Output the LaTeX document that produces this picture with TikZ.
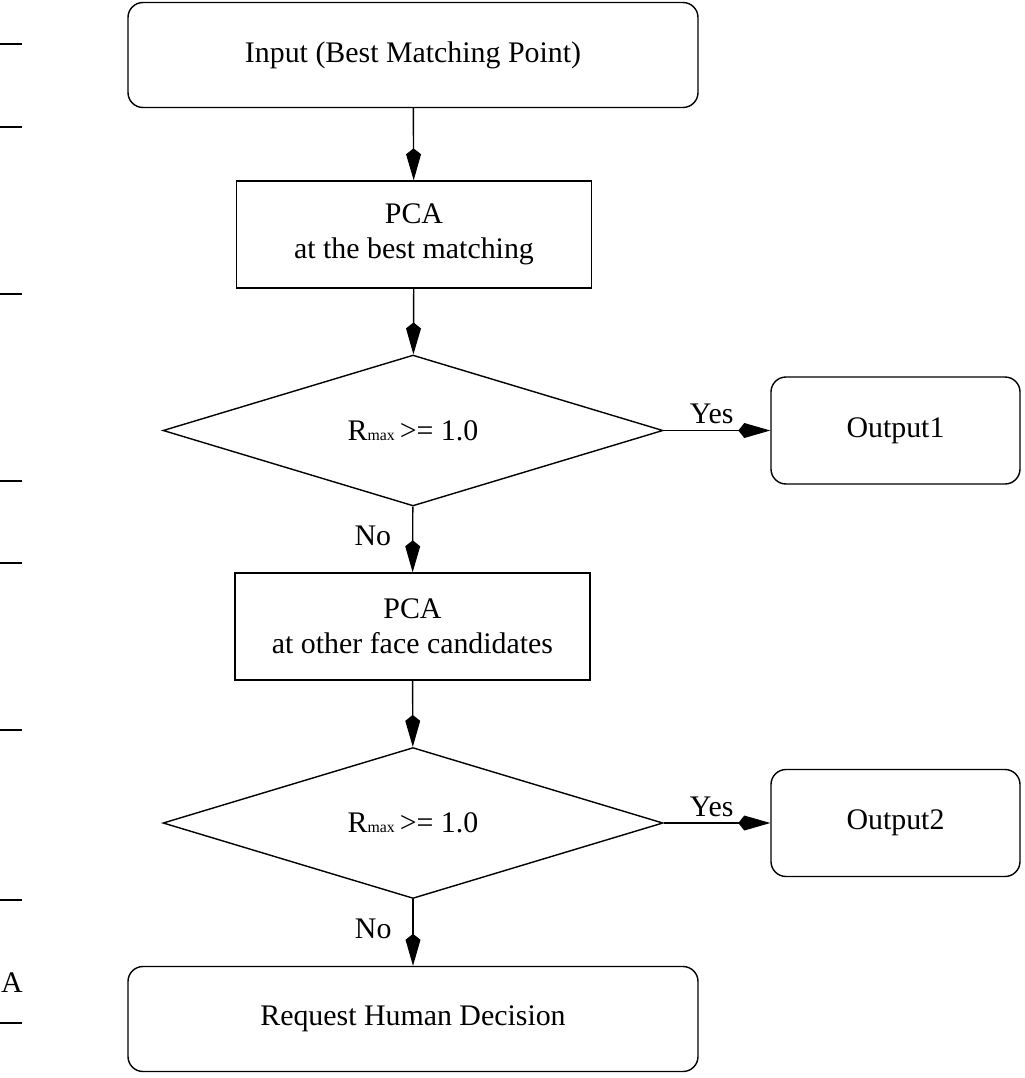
\documentclass[tikz,border=0pt]{standalone}
\usepackage{fontspec}
\setmainfont{Liberation Serif}
\usetikzlibrary{arrows.meta,positioning,shapes.geometric}
\tikzset{>={Kite[length=0.64cm,width=0.3cm,inset=0.12cm]},
	rbox/.style={draw,rounded corners=0.3cm,line width=0.8pt,minimum width=11.4cm,minimum height=2.1cm},
	sbox/.style={draw,line width=0.8pt,minimum width=7.1cm,minimum height=2.14cm,align=center,font=\fontsize{17}{20}\selectfont},
	obox/.style={draw,rounded corners=0.3cm,line width=0.8pt,minimum width=4.98cm,minimum height=2.14cm},
	decide/.style={draw,diamond,inner sep=0pt,line width=0.8pt,minimum width=10cm,minimum height=2.82cm},
	lbl/.style={font=\fontsize{17}{20}\selectfont},
	tick/.style={line width=1pt}}
\newcommand{\Rmax}{R{\fontsize{9}{9}\selectfont max}\,>= 1.0}
\begin{document}
\begin{tikzpicture}[line width=0.8pt,every node/.style={font=\fontsize{17}{20}\selectfont}]
		\useasboundingbox (0,0) rectangle (20.48,-21.56);
		\node (in) at (8.26,-1.1) [rbox] {Input (Best Matching Point)};
		\node (pca1) at (8.28,-4.69) [sbox] {PCA\\ at the best matching};
		\node (d1) at (8.26,-8.61) [decide] {\Rmax};
		\node (out1) at (17.91,-8.61) [obox] {Output1};
		\node (pca2) at (8.25,-12.53) [sbox] {PCA\\ at other face candidates};
		\node (d2) at (8.26,-16.46) [decide] {\Rmax};
		\node (out2) at (17.91,-16.46) [obox] {Output2};
		\node (req) at (8.26,-20.38) [rbox] {Request Human Decision};
		\draw [->] (in) -- (pca1);
		\draw [->] (pca1) -- (d1);
		\draw [->] (d1) -- node[lbl,left,pos=0.45,xshift=-0.3cm]{No} (pca2);
		\draw [->] (pca2) -- (d2);
		\draw [->] (d2) -- node[lbl,left,pos=0.45,xshift=-0.3cm]{No} (req);
		\draw [->] (d1) -- node[lbl,above,pos=0.45]{Yes} (out1);
		\draw [->] (d2) -- node[lbl,above,pos=0.45]{Yes} (out2);
		% edge marks on the left
		\foreach \y in {0.88,2.54,5.88,9.62,11.26,14.6,18,20.46}
			\draw [tick] (0,-\y) -- (0.44,-\y);
		\node (mark) at (0.24,-19.66) {A};
\end{tikzpicture}
\end{document}
